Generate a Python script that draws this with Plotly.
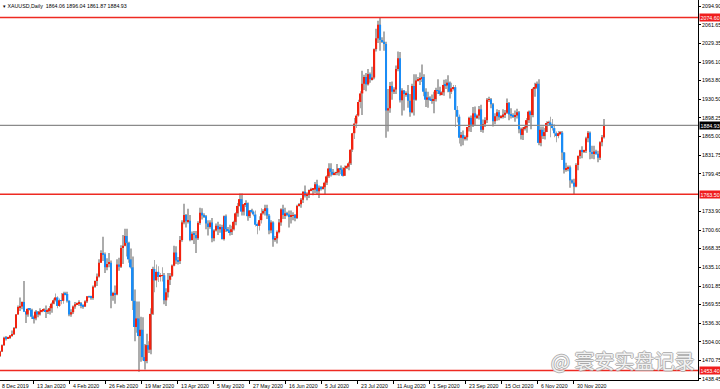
import plotly.graph_objects as go

TITLE = "▾ XAUUSD,Daily  1864.06 1896.04 1861.87 1884.93"

# Daily OHLC (one line per week)
O = [
    1476,1475,1479,1478,1479,1487,1498,1511,1510,1512,1515,1517,1528,
    1552,1565,1566,1574,1557,1552,
    1562,1560,1548,1545,1557,1552,
    1557,1559,1560,1558,1558,1563,
    1571,1577,1582,1567,1577,1576,
    1589,1588,1576,1552,1556,1566,
    1570,1572,1572,1567,1566,1575,
    1584,1583,1581,1601,1611,1619,
    1643,1660,1658,1635,1641,1643,
    1585,1590,1587,1640,1636,1669,
    1673,1690,1678,1649,1635,1576,
    1530,1545,1514,1525,1477,1470,
    1498,1490,1553,1632,1612,1627,
    1618,1620,1621,1577,1591,1613,
    1620,1638,1661,1647,1646,
    1683,1714,1727,1716,1717,
    1683,1694,1692,1686,1713,1731,
    1726,1725,1712,1706,1714,1686,
    1700,1708,1702,1706,1685,1725,
    1702,1700,1697,1702,1715,1730,
    1743,1755,1733,1746,1748,1725,
    1735,1733,1728,1710,1708,1718,
    1730,1734,1739,1726,1700,1714,
    1684,1686,1697,1714,1737,1727,
    1730,1728,1725,1726,1727,1722,
    1743,1746,1754,1768,1761,1763,
    1771,1772,1772,1781,1769,1775,
    1774,1776,1784,1795,1809,1803,
    1798,1801,1802,1809,1807,1796,
    1810,1812,1818,1842,1871,1888,
    1902,1926,1941,1958,1970,1957,
    1975,1966,1969,2019,2038,2062,
    2035,2032,2028,1911,1915,1954,
    1944,1948,1984,2003,1929,1946,
    1940,1941,1928,1908,1954,1930,
    1964,1966,1968,1970,1944,1930,
    1934,1931,1928,1931,1947,1946,
    1940,1943,1956,1955,1960,1944,
    1950,1952,1912,1900,1863,1868,
    1862,1864,1882,1898,1886,1906,
    1899,1902,1913,1877,1887,1894,
    1930,1931,1922,1892,1901,1908,
    1899,1901,1904,1907,1924,1904,
    1902,1900,1902,1908,1878,1868,
    1879,1881,1894,1909,1903,1949,
    1951,1958,1854,1877,1866,1873,
    1889,1890,1887,1880,1871,1866,
    1871,1872,1837,1807,1809,1811,
    1788,1784,1777,1815,1831,1841,
    1838,1840,1862,1872,1838,1836,
    1839,1835,1828,1855,1864.06,
]
H = [
    1479,1481,1481,1480,1488,1499,1513,1514,1513,1516,1524,1530,1553,
    1568,1582,1575,1611,1558,1563,
    1563,1562,1550,1560,1558,1563,
    1560,1563,1568,1562,1567,1573,
    1580,1589,1584,1580,1590,1592,
    1592,1592,1577,1561,1568,1574,
    1573,1577,1574,1570,1577,1584,
    1585,1585,1603,1612,1624,1649,
    1665,1689,1661,1651,1660,1647,
    1592,1603,1649,1652,1674,1692,
    1703,1703,1680,1668,1654,1596,
    1575,1575,1548,1547,1500,1518,
    1505,1563,1636,1648,1640,1637,
    1625,1635,1625,1598,1625,1625,
    1640,1673,1672,1653,1690,
    1718,1747,1729,1738,1727,
    1698,1699,1699,1716,1740,1739,
    1730,1727,1718,1718,1722,1702,
    1712,1715,1711,1710,1726,1728,
    1706,1710,1708,1717,1732,1748,
    1765,1765,1746,1753,1749,1736,
    1738,1735,1735,1714,1725,1739,
    1737,1745,1745,1729,1718,1716,
    1690,1700,1720,1739,1745,1740,
    1733,1735,1735,1732,1729,1745,
    1748,1757,1769,1779,1767,1772,
    1775,1774,1785,1789,1779,1778,
    1778,1786,1797,1818,1818,1808,
    1803,1817,1810,1814,1811,1814,
    1814,1821,1843,1872,1898,1905,
    1930,1945,1981,1974,1977,1984,
    1978,1988,2020,2055,2069,2075,
    2040,2050,2032,1949,1961,1962,
    1952,1990,2015,2014,1950,1947,
    1945,1956,1940,1958,1975,1975,
    1970,1978,1992,1975,1950,1944,
    1936,1939,1944,1951,1966,1953,
    1945,1965,1966,1973,1962,1960,
    1956,1956,1919,1904,1873,1876,
    1867,1882,1900,1902,1917,1918,
    1904,1919,1921,1895,1899,1933,
    1935,1933,1924,1906,1913,1912,
    1903,1913,1912,1932,1926,1915,
    1906,1911,1914,1910,1881,1882,
    1884,1898,1911,1911,1951,1960,
    1962,1966,1883,1883,1880,1892,
    1893,1900,1896,1887,1874,1875,
    1875,1875,1838,1819,1814,1814,
    1790,1791,1818,1832,1842,1848,
    1842,1865,1875,1874,1849,1849,
    1842,1840,1857,1868,1896.04,
]
L = [
    1472,1473,1474,1477,1477,1486,1497,1506,1509,1509,1513,1516,1527,
    1552,1558,1561,1557,1537,1548,
    1559,1544,1536,1542,1547,1550,
    1556,1557,1546,1553,1552,1555,
    1570,1575,1563,1565,1570,1571,
    1586,1573,1549,1548,1553,1562,
    1569,1567,1563,1562,1565,1572,
    1581,1578,1578,1599,1602,1617,
    1643,1646,1625,1630,1635,1563,
    1576,1571,1586,1629,1634,1641,
    1672,1654,1643,1633,1560,1505,
    1520,1451,1469,1471,1455,1466,
    1484,1482,1551,1591,1600,1609,
    1610,1610,1570,1567,1582,1604,
    1618,1637,1641,1640,1641,
    1680,1711,1705,1712,1681,
    1682,1676,1660,1683,1710,1719,
    1722,1702,1691,1703,1679,1681,
    1698,1692,1696,1684,1682,1697,
    1698,1691,1692,1700,1709,1724,
    1742,1726,1726,1741,1717,1722,
    1730,1725,1707,1693,1700,1712,
    1728,1726,1720,1693,1695,1671,
    1680,1677,1695,1708,1720,1720,
    1725,1705,1712,1718,1716,1720,
    1742,1740,1748,1758,1753,1757,
    1769,1762,1766,1764,1757,1770,
    1772,1763,1780,1792,1795,1797,
    1797,1797,1796,1799,1795,1796,
    1808,1806,1815,1838,1861,1880,
    1900,1915,1903,1947,1945,1955,
    1960,1964,1966,2015,2030,2016,
    2030,2016,1863,1874,1907,1930,
    1940,1940,1980,1925,1902,1911,
    1935,1916,1900,1906,1902,1928,
    1962,1956,1961,1936,1917,1916,
    1928,1923,1906,1927,1940,1937,
    1938,1937,1949,1943,1932,1940,
    1946,1882,1890,1853,1848,1850,
    1858,1858,1874,1873,1882,1885,
    1896,1895,1873,1872,1882,1889,
    1926,1915,1883,1887,1893,1894,
    1897,1897,1898,1905,1894,1897,
    1898,1891,1897,1871,1860,1859,
    1876,1872,1889,1878,1899,1935,
    1949,1850,1848,1861,1860,1873,
    1886,1864,1876,1864,1855,1862,
    1868,1824,1800,1803,1804,1775,
    1782,1764,1776,1806,1826,1827,
    1836,1836,1855,1825,1826,1825,
    1833,1820,1824,1848,1861.87,
]
C = [
    1475,1479,1478,1479,1487,1498,1511,1510,1512,1515,1517,1528,1552,
    1565,1566,1574,1557,1552,1562,
    1560,1548,1545,1557,1552,1557,
    1559,1560,1558,1558,1563,1571,
    1577,1582,1567,1577,1576,1589,
    1588,1576,1552,1556,1566,1570,
    1572,1572,1567,1566,1575,1584,
    1583,1581,1601,1611,1619,1643,
    1660,1658,1635,1641,1643,1585,
    1590,1587,1640,1636,1669,1673,
    1690,1678,1649,1635,1576,1530,
    1545,1514,1525,1477,1470,1498,
    1490,1553,1632,1612,1627,1618,
    1620,1621,1577,1591,1613,1620,
    1638,1661,1647,1646,1683,
    1714,1727,1716,1717,1683,
    1694,1692,1686,1713,1731,1726,
    1725,1712,1706,1714,1686,1700,
    1708,1702,1706,1685,1725,1702,
    1700,1697,1702,1715,1730,1743,
    1755,1733,1746,1748,1725,1735,
    1733,1728,1710,1708,1718,1730,
    1734,1739,1726,1700,1714,1684,
    1686,1697,1714,1737,1727,1730,
    1728,1725,1726,1727,1722,1743,
    1746,1754,1768,1761,1763,1771,
    1772,1772,1781,1769,1775,1774,
    1776,1784,1795,1809,1803,1798,
    1801,1802,1809,1807,1796,1810,
    1812,1818,1842,1871,1888,1902,
    1926,1941,1958,1970,1957,1975,
    1966,1969,2019,2038,2062,2035,
    2032,2028,1911,1915,1954,1944,
    1948,1984,2003,1929,1946,1940,
    1941,1928,1908,1954,1930,1964,
    1966,1968,1970,1944,1930,1934,
    1931,1928,1931,1947,1946,1940,
    1943,1956,1955,1960,1944,1950,
    1952,1912,1900,1863,1868,1862,
    1864,1882,1898,1886,1906,1899,
    1902,1913,1877,1887,1894,1930,
    1931,1922,1892,1901,1908,1899,
    1901,1904,1907,1924,1904,1902,
    1900,1902,1908,1878,1868,1879,
    1881,1894,1909,1903,1949,1951,
    1958,1854,1877,1866,1873,1889,
    1890,1887,1880,1871,1866,1871,
    1872,1837,1807,1809,1811,1788,
    1784,1777,1815,1831,1841,1838,
    1840,1862,1872,1838,1836,1839,
    1835,1828,1855,1864,1884.93,
]

X_TICK_LABELS = ["8 Dec 2019", "13 Jan 2020", "4 Feb 2020", "26 Feb 2020", "19 Mar 2020",
                 "13 Apr 2020", "5 May 2020", "27 May 2020", "16 Jun 2020", "5 Jul 2020",
                 "23 Jul 2020", "11 Aug 2020", "1 Sep 2020", "23 Sep 2020", "15 Oct 2020",
                 "6 Nov 2020", "30 Nov 2020"]
Y_TICKS = [2094.90, 2061.65, 2029.35, 1996.10, 1963.80, 1930.50, 1898.25, 1865.00,
           1831.75, 1799.45, 1733.90, 1700.60, 1668.35, 1635.10, 1601.85,
           1569.55, 1536.30, 1504.00, 1470.75, 1438.45]
RED_LEVELS = [2074.60, 1763.50, 1453.40]
LAST_PRICE = 1884.93
WATERMARK = "@ 寰安实盘记录"

assert len(O) == len(H) == len(L) == len(C)
n = len(C)
x = list(range(n))

# ---- geometry (pixels) ----
W, Hh = 720, 389
ML, MR, MT, MB = 0, 22, 0, 9
PW = W - ML - MR            # 698
PH = Hh - MT - MB           # 380
PX_BAR = 1.98
LAST_BAR_PX = 604
r0 = (n - 1) - LAST_BAR_PX / PX_BAR
r1 = r0 + PW / PX_BAR
def px_to_idx(p):
    return r0 + p / PX_BAR
tick_px = [573 - 36 * (len(X_TICK_LABELS) - 1 - k) for k in range(len(X_TICK_LABELS))]
tick_idx = [px_to_idx(p) for p in tick_px]

Y_MIN, Y_MAX = 1436.66, 2105.46

RED = "#f2220f"
BLUE = "#1a8cf5"

wick_base = list(L)
wick_len = [h - l for h, l in zip(H, L)]
base = [min(o, c) for o, c in zip(O, C)]
height = [max(abs(c - o), 0.9) for o, c in zip(O, C)]
colors = [RED if c >= o else BLUE for o, c in zip(O, C)]

fig = go.Figure()
# wicks (thin bars, drawn first so bodies sit on top)
fig.add_trace(go.Bar(x=x, y=wick_len, base=wick_base, width=0.45,
                     marker=dict(color="#acacac", line=dict(width=0)), showlegend=False))
# bodies
fig.add_trace(go.Bar(x=x, y=height, base=base, width=0.85,
                     marker=dict(color=colors, line=dict(width=0)), showlegend=False))

shapes = []
for lv in RED_LEVELS:
    shapes.append(dict(type="line", xref="paper", x0=0, x1=1, yref="y", y0=lv, y1=lv,
                       line=dict(color="#ee2a22", width=1.6), layer="above"))
shapes.append(dict(type="line", xref="paper", x0=0, x1=1, yref="y", y0=LAST_PRICE, y1=LAST_PRICE,
                   line=dict(color="#8a8a8a", width=1.3), layer="above"))

FONT = "Liberation Sans, Arial, sans-serif"
ann = []
# title
ann.append(dict(text=TITLE, xref="paper", yref="paper", x=0, y=1, xanchor="left", yanchor="top",
                xshift=1, yshift=-1, showarrow=False, font=dict(family=FONT, size=5.3, color="#000")))
# x labels
for k, (lab, ti) in enumerate(zip(X_TICK_LABELS, tick_idx)):
    ann.append(dict(text=lab, xref="x", yref="paper", x=max(ti, r0), y=0,
                    xanchor="left", yanchor="top", xshift=2 if ti > r0 else 0, yshift=-1,
                    showarrow=False, font=dict(family=FONT, size=5.2, color="#000")))
# price level boxes
for lv in RED_LEVELS:
    ann.append(dict(text=f"{lv:.2f}", xref="paper", yref="y", x=1, y=lv, xanchor="left",
                    yanchor="middle", xshift=1, showarrow=False, bgcolor="#f01e1e",
                    borderpad=0.5, font=dict(family=FONT, size=5.3, color="#ffffff")))
ann.append(dict(text=f"{LAST_PRICE:.2f}", xref="paper", yref="y", x=1, y=LAST_PRICE, xanchor="left",
                yanchor="middle", xshift=1, showarrow=False, bgcolor="#000000",
                borderpad=0.5, font=dict(family=FONT, size=5.3, color="#ffffff")))
# watermark (sits above the date labels, as in the reference)
ann.append(dict(text=WATERMARK, xref="paper", yref="paper", x=622 / PW, y=(PH - 360) / PH,
                xanchor="center", yanchor="middle", showarrow=False,
                font=dict(family="Noto Sans CJK SC", size=20, color="rgba(255,255,255,0.85)",
                          shadow="-1px 0 #a8a8a8, 1px 0 #a8a8a8, 0 -1px #a8a8a8, 0 1px #a8a8a8")))

fig.update_layout(
    width=W, height=Hh, margin=dict(l=ML, r=MR, t=MT, b=MB, pad=0),
    paper_bgcolor="white", plot_bgcolor="white",
    barmode="overlay", hovermode=False, showlegend=False,
    shapes=shapes, annotations=ann,
    xaxis=dict(range=[r0, r1], showgrid=False, zeroline=False, showline=True,
               linecolor="#000", linewidth=1, ticks="outside", ticklen=3, tickcolor="#000",
               tickwidth=1, tickvals=tick_idx, showticklabels=False, fixedrange=True),
    yaxis=dict(range=[Y_MIN, Y_MAX], side="right", showgrid=False, zeroline=False,
               showline=True, linecolor="#000", linewidth=1, ticks="outside", ticklen=2,
               tickcolor="#000", tickvals=Y_TICKS, ticktext=[f"{v:.2f}" for v in Y_TICKS],
               tickfont=dict(family=FONT, size=5.3, color="#000"), fixedrange=True),
)

fig.write_html("out.html")
